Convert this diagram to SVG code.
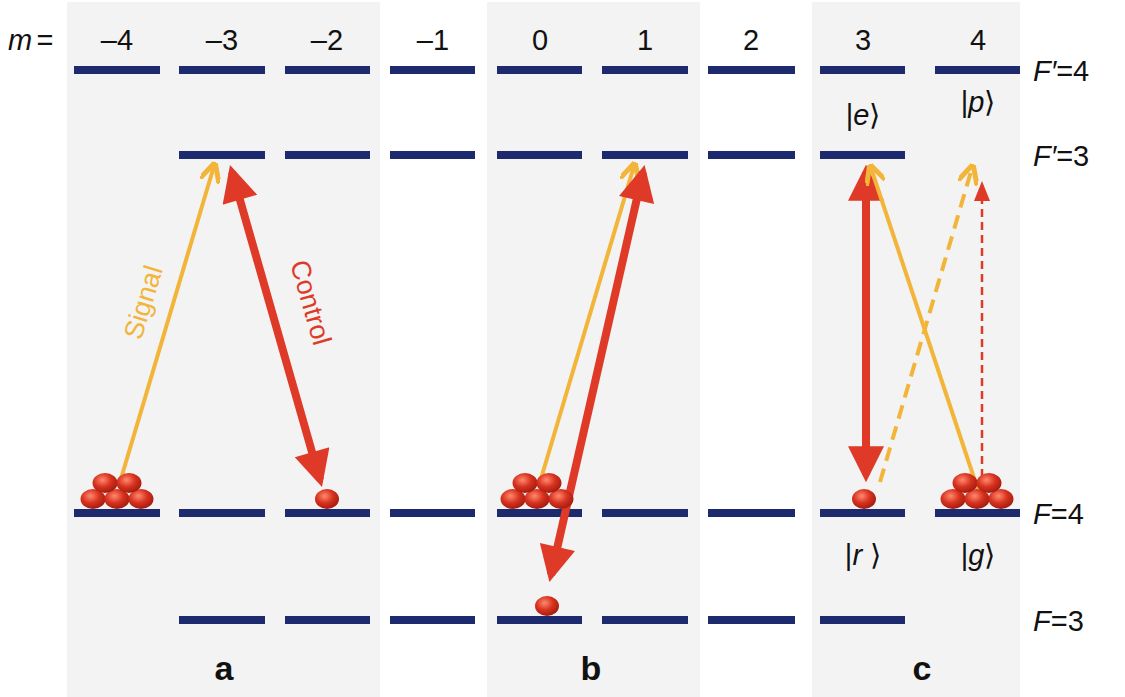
<svg xmlns="http://www.w3.org/2000/svg" width="1125" height="697" viewBox="0 0 1125 697">
<defs>
<style>
.lv{stroke:#1d2a6e;stroke-width:8}
.t{font-family:"Liberation Sans",Arial,sans-serif;font-size:29px;fill:#111;text-anchor:middle}
.i{font-style:italic}
.sig{stroke:#f2b53a;stroke-width:4;fill:none}
.ctl{stroke:#de3a27;stroke-width:8;fill:none}
</style>
<marker id="ys" viewBox="0 0 10 10" refX="8" refY="5" markerWidth="5" markerHeight="5" orient="auto-start-reverse"><path d="M0,0 L10,5 L0,10" fill="none" stroke="#f2b53a" stroke-width="2.5"/></marker>
<marker id="rh" viewBox="0 0 10 10" refX="8" refY="5" markerWidth="5" markerHeight="4.5" orient="auto-start-reverse"><path d="M0,0 L10,5 L0,10 Z" fill="#de3a27"/></marker>
<marker id="rs" viewBox="0 0 10 10" refX="8" refY="5" markerWidth="8" markerHeight="8" orient="auto"><path d="M0,1 L10,5 L0,9 Z" fill="#de3a27"/></marker>
<radialGradient id="ag" cx="0.4" cy="0.35" r="0.7"><stop offset="0" stop-color="#ff8a70"/><stop offset="0.5" stop-color="#d8321f"/><stop offset="1" stop-color="#9c1a0e"/></radialGradient>
<g id="pile"><ellipse cx="-24" cy="-11" rx="12.5" ry="10" fill="url(#ag)"/><ellipse cx="0" cy="-11" rx="12.5" ry="10" fill="url(#ag)"/><ellipse cx="24" cy="-11" rx="12.5" ry="10" fill="url(#ag)"/><ellipse cx="-12" cy="-27" rx="12.5" ry="10" fill="url(#ag)"/><ellipse cx="12" cy="-27" rx="12.5" ry="10" fill="url(#ag)"/></g>
</defs>
<rect width="1125" height="697" fill="#fff"/>
<g id="panels" fill="#f3f3f3">
<rect x="67" y="2" width="313" height="695"/>
<rect x="487" y="2" width="213" height="695"/>
<rect x="812" y="2" width="208" height="695"/>
</g>
<g id="mlabels" class="t">
<text x="20" y="50" class="i">m</text><text x="45" y="50">=</text>
<text x="117" y="50">–4</text><text x="222" y="50">–3</text><text x="327" y="50">–2</text><text x="433" y="50">–1</text><text x="540" y="50">0</text><text x="645" y="50">1</text><text x="751" y="50">2</text><text x="863" y="50">3</text><text x="978" y="50">4</text>
</g>
<g id="levels" class="lv">
<path d="M74 70H160M179 70H265M285 70H370M390 70H475M497 70H582M602 70H688M708 70H795M820 70H905M935 70H1020"/>
<path d="M179 155H265M285 155H370M390 155H475M497 155H582M602 155H688M708 155H795M820 155H905"/>
<path d="M74 513H160M179 513H265M285 513H370M390 513H475M497 513H582M602 513H688M708 513H795M820 513H905M935 513H1020"/>
<path d="M179 620H265M285 620H370M390 620H475M497 620H582M602 620H688M708 620H795M820 620H905"/>
</g>
<g id="flabels" class="t">
<text x="1033" y="81" text-anchor="start"><tspan class="i">F′</tspan>=4</text>
<text x="1033" y="166" text-anchor="start"><tspan class="i">F′</tspan>=3</text>
<text x="1033" y="524" text-anchor="start"><tspan class="i">F</tspan>=4</text>
<text x="1033" y="631" text-anchor="start"><tspan class="i">F</tspan>=3</text>
</g>
<g id="states" class="t">
<text x="863" y="125">|<tspan class="i">e</tspan>⟩</text>
<text x="978" y="112">|<tspan class="i">p</tspan>⟩</text>
<text x="863" y="565">|<tspan class="i">r</tspan> ⟩</text>
<text x="978" y="565">|<tspan class="i">g</tspan>⟩</text>
</g>
<g id="connectors">
<line class="sig" x1="120" y1="482" x2="214" y2="166" marker-end="url(#ys)"/>
<line class="ctl" x1="232" y1="172" x2="320" y2="480" marker-start="url(#rh)" marker-end="url(#rh)"/>
<line class="sig" x1="540" y1="482" x2="634" y2="166" marker-end="url(#ys)"/>
<line class="ctl" x1="643" y1="172" x2="551" y2="575" marker-start="url(#rh)" marker-end="url(#rh)"/>
<line class="ctl" x1="866" y1="172" x2="866" y2="475" marker-start="url(#rh)" marker-end="url(#rh)"/>
<line class="sig" x1="978" y1="490" x2="871" y2="168" marker-end="url(#ys)"/>
<line class="sig" x1="880" y1="482" x2="972" y2="168" stroke-dasharray="14,8" marker-end="url(#ys)"/>
<line x1="982" y1="490" x2="982" y2="185" stroke="#de3a27" stroke-width="2.5" stroke-dasharray="8,5" marker-end="url(#rs)"/>
<text transform="translate(152,305) rotate(-73)" font-family="Liberation Sans,Arial,sans-serif" font-size="27" fill="#f2b53a" text-anchor="middle">Signal</text>
<text transform="translate(302,305) rotate(74)" font-family="Liberation Sans,Arial,sans-serif" font-size="27" fill="#de3a27" text-anchor="middle">Control</text>
</g>
<g id="atoms">
<use href="#pile" x="117" y="510"/>
<use href="#pile" x="537" y="510"/>
<use href="#pile" x="977" y="510"/>
<ellipse cx="327" cy="499" rx="12" ry="10" fill="url(#ag)"/>
<ellipse cx="547" cy="606" rx="12" ry="10" fill="url(#ag)"/>
<ellipse cx="864" cy="499" rx="12" ry="10" fill="url(#ag)"/>
</g>
<g id="panelLabels" font-family="Liberation Sans,Arial,sans-serif" font-size="34" font-weight="bold" text-anchor="middle" fill="#111">
<text x="224" y="680">a</text><text x="591" y="680">b</text><text x="922" y="680">c</text>
</g>
</svg>
